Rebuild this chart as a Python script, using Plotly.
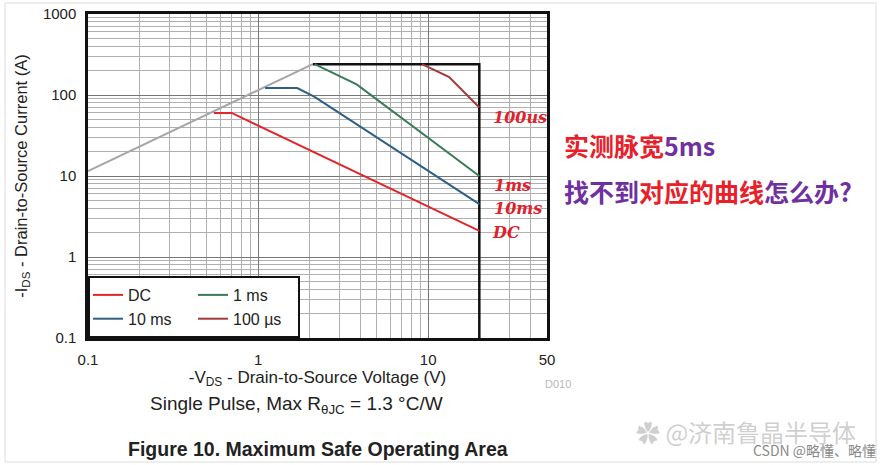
import math
import plotly.graph_objects as go

# ---- data ----
limit_v = [0.1, 2.1]
limit_i = [11.5, 240]
boundary_v = [2.1, 20, 20]
boundary_i = [240, 240, 0.1]
dc_v = [0.55, 0.7, 20]
dc_i = [60, 60, 2.1]
ms10_v = [1.1, 1.7, 2.15, 20]
ms10_i = [122, 122, 95, 4.5]
ms1_v = [2.15, 3.8, 20]
ms1_i = [240, 135, 10]
us100_v = [9.2, 13.3, 20]
us100_i = [240, 166, 70]

x_tick_vals = [0.1, 1, 10, 50]
x_tick_text = ["0.1", "1", "10", "50"]
y_tick_vals = [0.1, 1, 10, 100, 1000]
y_tick_text = ["0.1", "1", "10", "100", "1000"]

curve_labels = ["100us", "1ms", "10ms", "DC"]
curve_label_v = [23.3, 23.6, 23.6, 23.0]
curve_label_i = [53, 7.6, 3.97, 2.0]

x_minor = [k * 10 ** e for e in range(-1, 2) for k in range(2, 10) if k * 10 ** e <= 50]
y_minor = [k * 10 ** e for e in range(-1, 3) for k in range(2, 10)]

FONT = "Liberation Sans, Arial, sans-serif"
RED = "#e3262b"
BLUE = "#2f5f87"
GREEN = "#3b7a57"
BROWN = "#a33a3a"

fig = go.Figure()
fig.add_trace(go.Scatter(x=limit_v, y=limit_i, mode="lines",
                         line=dict(color="#a6a6a6", width=2), showlegend=False, hoverinfo="skip"))
fig.add_trace(go.Scatter(x=boundary_v, y=boundary_i, mode="lines",
                         line=dict(color="#111111", width=2.5), showlegend=False, hoverinfo="skip"))
fig.add_trace(go.Scatter(x=dc_v, y=dc_i, mode="lines", name="DC", legendgroup="a",
                         line=dict(color=RED, width=2)))
fig.add_trace(go.Scatter(x=ms10_v, y=ms10_i, mode="lines", name="10 ms", legendgroup="a",
                         line=dict(color=BLUE, width=2)))
fig.add_trace(go.Scatter(x=ms1_v, y=ms1_i, mode="lines", name="1 ms", legendgroup="b",
                         line=dict(color=GREEN, width=2)))
fig.add_trace(go.Scatter(x=us100_v, y=us100_i, mode="lines", name="100 µs", legendgroup="b",
                         line=dict(color=BROWN, width=2)))

annotations = []
for t, v, i in zip(curve_labels, curve_label_v, curve_label_i):
    annotations.append(dict(x=math.log10(v), y=math.log10(i), xref="x", yref="y",
                            text="<b><i>%s</i></b>" % t,
                            showarrow=False, xanchor="left", yanchor="middle",
                            font=dict(family="DejaVu Serif, Liberation Serif, serif", size=16, color="#e0202a")))

P = "#7030a0"
R = "#e8202a"
annotations += [
    dict(x=1.0327, y=0.5957, xref="paper", yref="paper", xanchor="left", yanchor="middle", showarrow=False,
         text="<b><span style='color:%s'>实测脉宽</span><span style='color:%s'>5ms</span></b>" % (R, P),
         font=dict(family="Noto Sans CJK SC", size=25)),
    dict(x=1.0327, y=0.4537, xref="paper", yref="paper", xanchor="left", yanchor="middle", showarrow=False,
         text="<b><span style='color:%s'>找不到</span><span style='color:%s'>对应的曲线</span><span style='color:%s'>怎么办?</span></b>" % (P, R, P),
         font=dict(family="Noto Sans CJK SC", size=25)),
    dict(x=0.4553, y=-0.2068, xref="paper", yref="paper", xanchor="center", yanchor="middle", showarrow=False,
         text="Single Pulse, Max R<sub>θJC</sub> = 1.3 °C/W", font=dict(family=FONT, size=19, color="#222")),
    dict(x=0.5011, y=-0.3426, xref="paper", yref="paper", xanchor="center", yanchor="middle", showarrow=False,
         text="<b>Figure 10. Maximum Safe Operating Area</b>", font=dict(family=FONT, size=19.5, color="#222")),
    dict(x=0.9913, y=-0.142, xref="paper", yref="paper", xanchor="left", yanchor="middle", showarrow=False,
         text="D010", font=dict(family=FONT, size=11, color="#b8b8b8")),
    dict(x=1.1895, y=-0.29, xref="paper", yref="paper", xanchor="left", yanchor="middle", showarrow=False,
         text="✿ @济南鲁晶半导体", font=dict(family="Noto Sans CJK SC", size=24, color="rgba(160,160,160,0.5)")),
    dict(x=1.7211, y=-0.3457, xref="paper", yref="paper", xanchor="right", yanchor="middle", showarrow=False,
         text="CSDN @略懂、略懂", font=dict(family="Noto Sans CJK SC", size=14, color="#8a8a8a")),
]

fig.update_layout(
    width=882, height=465, autosize=False,
    margin=dict(l=88, r=335, t=14, b=127, autoexpand=False),
    paper_bgcolor="white", plot_bgcolor="white",
    font=dict(family=FONT, color="#222"),
    showlegend=True,
    legend=dict(orientation="h", x=0, y=0, xanchor="left", yanchor="bottom",
                bgcolor="white", bordercolor="#111", borderwidth=2,
                font=dict(family=FONT, size=16, color="#222"),
                entrywidth=60, traceorder="grouped"),
    annotations=annotations,
    shapes=[dict(type="rect", xref="paper", yref="paper", x0=-0.1808, x1=1.7168, y0=-0.3827, y1=1.034,
                 line=dict(color="#dcdcdc", width=1), layer="below")],
)
fig.update_xaxes(type="log", range=[-1, 1.69897], tickmode="array", tickvals=x_tick_vals, ticktext=x_tick_text,
                 showgrid=True, gridcolor="#777", gridwidth=1,
                 minor=dict(tickmode="array", tickvals=x_minor, showgrid=True, gridcolor="#b0b0b0", gridwidth=1),
                 showline=True, linecolor="#111", linewidth=2.5, mirror=True, ticks="",
                 ticklabelstandoff=6, tickfont=dict(family=FONT, size=15, color="#222"),
                 zeroline=False,
                 title=dict(text="-V<sub>DS</sub> - Drain-to-Source Voltage (V)",
                            font=dict(family=FONT, size=17, color="#222"), standoff=4))
fig.update_yaxes(type="log", range=[-1, 3], tickmode="array", tickvals=y_tick_vals, ticktext=y_tick_text,
                 showgrid=True, gridcolor="#777", gridwidth=1,
                 minor=dict(tickmode="array", tickvals=y_minor, showgrid=True, gridcolor="#b0b0b0", gridwidth=1),
                 showline=True, linecolor="#111", linewidth=2.5, mirror=True, ticks="",
                 ticklabelstandoff=6, tickfont=dict(family=FONT, size=15, color="#222"),
                 zeroline=False,
                 title=dict(text="-I<sub>DS</sub> - Drain-to-Source Current (A)",
                            font=dict(family=FONT, size=16.5, color="#222"), standoff=12))

fig.write_html("out.html", config={"displayModeBar": False},
               post_script="document.body.style.margin='0';document.body.style.overflow='hidden';")
